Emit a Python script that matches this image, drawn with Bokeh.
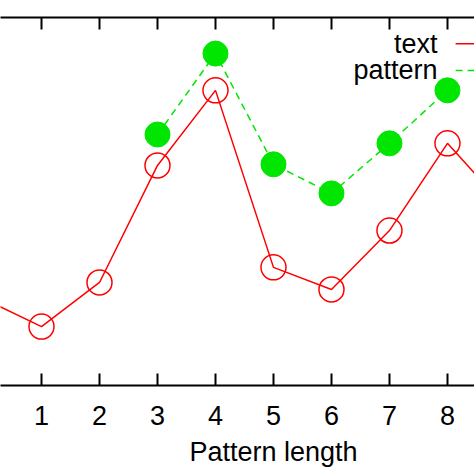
from bokeh.plotting import figure
from bokeh.models import Range1d, FixedTicker, LinearAxis, Label, Title
from bokeh.embed import file_html
from bokeh.resources import INLINE

# Data (y in arbitrary units; the reference shows no y tick labels)
text_x = [0, 1, 2, 3, 4, 5, 6, 7, 8, 9]
text_y = [23.6, 16.0, 28.0, 59.8, 80.2, 32.1, 26.1, 42.1, 65.8, 48.4]
pattern_x = [3, 4, 5, 6, 7, 8]
pattern_y = [68.2, 90.2, 60.1, 52.2, 65.8, 80.2]
x_ticks = [0, 1, 2, 3, 4, 5, 6, 7, 8, 9]
x_label = "Pattern length"
series_names = ["text", "pattern"]

RED = "#ff0000"
GREEN = "#00e600"
FONT = "Liberation Sans"
FS = "27px"

p = figure(frame_width=474, frame_height=368, output_backend="svg",
           toolbar_location=None, x_range=Range1d(0.293, 8.466),
           y_range=Range1d(0, 100), min_border_left=0, min_border_right=0,
           min_border_top=17, min_border_bottom=89,
           x_axis_location=None, y_axis_location=None)
p.outline_line_color = None
p.xgrid.visible = False
p.ygrid.visible = False
p.background_fill_color = "white"
p.border_fill_color = "white"

ticker = FixedTicker(ticks=x_ticks)
xb = LinearAxis(ticker=ticker)
xb.axis_line_width = 2
xb.axis_line_color = "black"
xb.major_tick_in = 12
xb.major_tick_out = 0
xb.major_tick_line_width = 2
xb.minor_tick_line_color = None
xb.major_label_text_font = FONT
xb.major_label_text_font_size = FS
xb.major_label_text_color = "black"
xb.major_label_standoff = 20
p.add_layout(xb, "below")

xa = LinearAxis(ticker=ticker)
xa.axis_line_width = 2
xa.axis_line_color = "black"
xa.major_tick_in = 12
xa.major_tick_out = 0
xa.major_tick_line_width = 2
xa.minor_tick_line_color = None
xa.major_label_text_font_size = "1px"
xa.major_label_text_alpha = 0
xa.major_label_standoff = 0
p.add_layout(xa, "above")

# series
p.line(text_x, text_y, line_color=RED, line_width=1.5)
p.scatter(text_x, text_y, size=25, fill_color=None, line_color=RED, line_width=1.5)
p.line(pattern_x, pattern_y, line_color=GREEN, line_width=1.5, line_dash="7 5")
p.scatter(pattern_x, pattern_y, size=25, fill_color=GREEN, line_color=GREEN)

# legend (gnuplot style: label then sample)
leg_text_x = 7.83
leg_y = [92.9, 85.6]
leg_line_x = [8.14, 8.7]
for name, yy in zip(series_names, leg_y):
    p.add_layout(Label(x=leg_text_x, y=yy, text=name, text_align="right",
                       text_baseline="middle", text_font=FONT,
                       text_font_size=FS, text_color="black"))
p.line(leg_line_x, [leg_y[0]] * 2, line_color=RED, line_width=1.5)
p.line(leg_line_x, [leg_y[1]] * 2, line_color=GREEN, line_width=1.5, line_dash="7 5")

# x axis title, centred under x=5 as in the cropped reference
p.add_layout(Title(text=x_label, align="left", offset=189, standoff=15,
                   text_font=FONT, text_font_size=FS,
                   text_font_style="normal", text_color="black"), "below")

open("out.html", "w").write(file_html(p, INLINE))
